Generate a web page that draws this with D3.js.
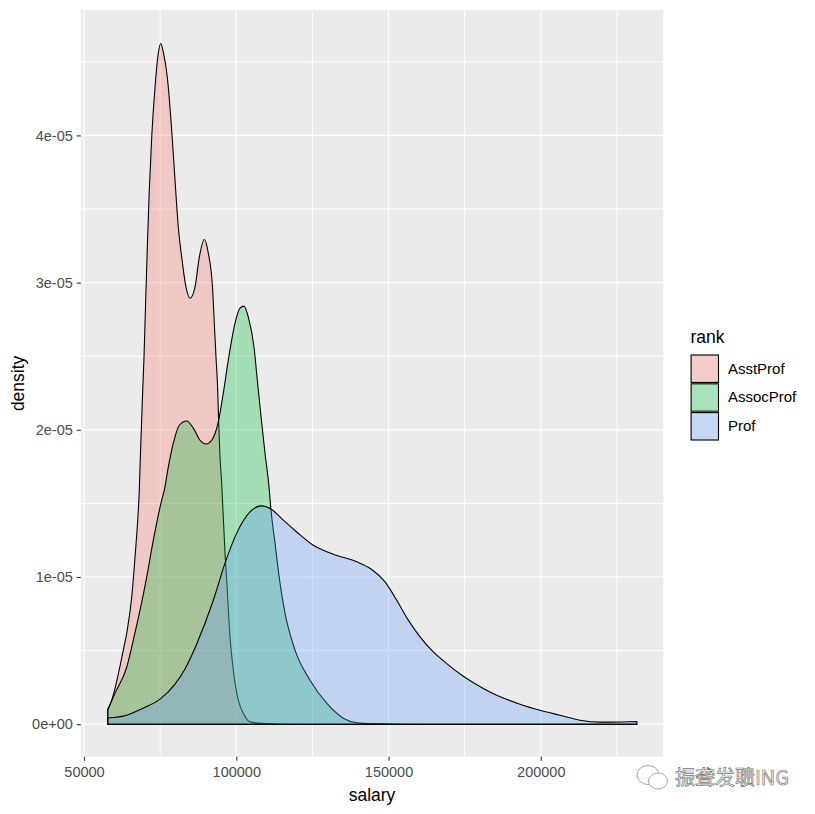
<!DOCTYPE html>
<html>
<head>
<meta charset="utf-8">
<script src="https://cdn.jsdelivr.net/npm/d3@7"></script>
<style>
  html, body { margin: 0; padding: 0; background: #fff; }
  text { font-family: "Liberation Sans", Arial, sans-serif; }
</style>
</head>
<body>
<div id="chart"></div>
<script>
// values, density in units of 1e-5
const ranks = ["AsstProf", "AssocProf", "Prof"];
const rankColors = ["#F8766D", "#00BA38", "#619CFF"];

const asstSalary = [57800, 59097, 62906, 64023, 65665, 66748, 67832, 68161, 68390, 69277, 69704, 70131, 70788, 71445, 72233, 73316, 74400, 75188, 76042, 77356, 78801, 79884, 80968, 82085, 83497, 84810, 86452, 87865, 89507, 90820, 92264, 92791, 93349, 93907, 94235, 94662, 95155, 96304, 96863, 97946, 99030, 100672, 102314, 104514, 108357, 120000, 231545];
const asstDensity = [0.102, 0.163, 0.503, 0.618, 0.863, 1.134, 1.454, 1.590, 1.746, 2.269, 2.493, 2.792, 3.241, 3.628, 3.988, 4.327, 4.558, 4.624, 4.565, 4.395, 4.035, 3.696, 3.376, 3.173, 2.969, 2.894, 2.969, 3.173, 3.293, 3.200, 2.948, 2.724, 2.493, 2.269, 2.045, 1.814, 1.658, 1.162, 0.978, 0.591, 0.367, 0.163, 0.075, 0.016, 0.006, 0, 0];

const assocSalary = [57800, 60180, 64023, 66190, 70591, 72758, 75517, 76371, 77684, 79326, 81297, 83727, 85894, 88094, 90065, 91937, 94104, 95746, 97388, 99588, 101230, 102544, 103956, 105828, 106912, 108357, 109440, 110853, 111312, 112724, 114366, 116008, 119292, 124218, 129703, 135154, 139555, 144908, 160000, 231545];
const assocDensity = [0.095, 0.211, 0.387, 0.571, 0.999, 1.250, 1.522, 1.590, 1.746, 1.909, 2.031, 2.060, 2.011, 1.929, 1.904, 1.929, 2.054, 2.249, 2.473, 2.724, 2.826, 2.840, 2.765, 2.561, 2.337, 2.045, 1.841, 1.590, 1.474, 1.230, 0.958, 0.754, 0.503, 0.299, 0.143, 0.041, 0.010, 0.004, 0, 0];

const profSalary = [57800, 64023, 69474, 74958, 79884, 83168, 87011, 92462, 96304, 100147, 104514, 108127, 111641, 115450, 119851, 125302, 131870, 139555, 144481, 148848, 152691, 156500, 160342, 164710, 169111, 174562, 181130, 185531, 193182, 199750, 206318, 212886, 219454, 223296, 231545];
const profDensity = [0.042, 0.061, 0.109, 0.170, 0.272, 0.375, 0.545, 0.842, 1.094, 1.298, 1.442, 1.483, 1.459, 1.386, 1.306, 1.216, 1.155, 1.103, 1.051, 0.967, 0.842, 0.707, 0.593, 0.491, 0.412, 0.326, 0.243, 0.197, 0.136, 0.095, 0.061, 0.027, 0.014, 0.014, 0.018];

const xTicks = [50000, 100000, 150000, 200000];
const xMinor = [75000, 125000, 175000, 225000];
const yTicks = [0, 1, 2, 3, 4];
const yMinor = [0.5, 1.5, 2.5, 3.5, 4.5];
const yTickLabels = ["0e+00", "1e-05", "2e-05", "3e-05", "4e-05"];

const width = 815, height = 814;
const panel = { left: 80.8, right: 663.2, top: 10, bottom: 756.8 };

const svg = d3.select("#chart").append("svg")
    .attr("width", width)
    .attr("height", height)
    .style("display", "block");

// data domain chosen so the panel carries ggplot's 5% expansion
const x = d3.scaleLinear().domain([50000, 200000]).range([84, 540.8]);
const y = d3.scaleLinear().domain([0, 4]).range([724.2, 135.4]);

svg.append("rect")
    .attr("x", panel.left).attr("y", panel.top)
    .attr("width", panel.right - panel.left)
    .attr("height", panel.bottom - panel.top)
    .attr("fill", "#ebebeb");

// grid
const grid = svg.append("g").attr("stroke", "#fff").attr("fill", "none");
function vLines(vals, w) {
    grid.selectAll(null).data(vals).join("line")
        .attr("x1", d => x(d)).attr("x2", d => x(d))
        .attr("y1", panel.top).attr("y2", panel.bottom)
        .attr("stroke-width", w);
}
function hLines(vals, w) {
    grid.selectAll(null).data(vals).join("line")
        .attr("x1", panel.left).attr("x2", panel.right)
        .attr("y1", d => y(d)).attr("y2", d => y(d))
        .attr("stroke-width", w);
}
vLines(xMinor, 1);
hLines(yMinor, 1);
vLines(xTicks, 1.2);
hLines(yTicks, 1.2);

// density curves
const series = [
    { xs: asstSalary, ys: asstDensity },
    { xs: assocSalary, ys: assocDensity },
    { xs: profSalary, ys: profDensity }
];
const area = d3.area()
    .x(d => x(d[0]))
    .y0(y(0))
    .y1(d => y(d[1]))
    .curve(d3.curveMonotoneX);

series.forEach((s, i) => {
    svg.append("path")
        .datum(d3.zip(s.xs, s.ys))
        .attr("d", area)
        .attr("fill", rankColors[i])
        .attr("fill-opacity", 0.3)
        .attr("stroke", "#000")
        .attr("stroke-width", 1.1)
        .attr("stroke-linejoin", "round");
});

// axes
const xAxis = svg.append("g")
    .attr("transform", `translate(0,${panel.bottom})`)
    .call(d3.axisBottom(x).tickValues(xTicks).tickFormat(d3.format("d")).tickSize(4).tickPadding(6));
const yAxis = svg.append("g")
    .attr("transform", `translate(${panel.left},0)`)
    .call(d3.axisLeft(y).tickValues(yTicks).tickFormat((d, i) => yTickLabels[i]).tickSize(4).tickPadding(4));

[xAxis, yAxis].forEach(a => {
    a.select(".domain").remove();
    a.selectAll(".tick line").attr("stroke", "#333").attr("stroke-width", 1.1);
    a.selectAll(".tick text")
        .attr("fill", "#4d4d4d")
        .style("font-family", '"Liberation Sans", Arial, sans-serif')
        .style("font-size", "14.5px");
});

svg.append("text")
    .attr("x", (panel.left + panel.right) / 2).attr("y", 801)
    .attr("text-anchor", "middle")
    .style("font-size", "17.5px")
    .text("salary");

svg.append("text")
    .attr("transform", `translate(24,${(panel.top + panel.bottom) / 2}) rotate(-90)`)
    .attr("text-anchor", "middle")
    .style("font-size", "17.5px")
    .text("density");

// legend
const keySize = 28.8, keyTop = 354.3, keyLeft = 690.4;
svg.append("text")
    .attr("x", keyLeft).attr("y", 343)
    .style("font-size", "17.5px")
    .text("rank");

const keys = svg.selectAll(".key").data(ranks).join("g")
    .attr("class", "key")
    .attr("transform", (d, i) => `translate(${keyLeft},${keyTop + i * keySize})`);
keys.append("rect")
    .attr("width", keySize).attr("height", keySize)
    .attr("fill", "#f2f2f2");
keys.append("rect")
    .attr("x", 0.7).attr("y", 0.7)
    .attr("width", keySize - 1.4).attr("height", keySize - 1.4)
    .attr("fill", (d, i) => rankColors[i])
    .attr("fill-opacity", 0.3)
    .attr("stroke", "#000")
    .attr("stroke-width", 1.1);
keys.append("text")
    .attr("x", 37.5).attr("y", keySize / 2 + 5)
    .style("font-size", "15px")
    .text(d => d);

// watermark
const mark = svg.append("g")
    .attr("fill", "#fff")
    .attr("stroke", "#a8a8a8")
    .attr("stroke-width", 1);
mark.append("ellipse").attr("cx", 648).attr("cy", 775).attr("rx", 11).attr("ry", 9.5);
mark.append("ellipse").attr("cx", 658).attr("cy", 781).attr("rx", 9.5).attr("ry", 8);
mark.append("text")
    .attr("x", 675).attr("y", 785)
    .attr("fill", "#fff")
    .attr("stroke", "#777")
    .attr("stroke-width", 0.7)
    .style("font-family", '"Noto Sans CJK SC", sans-serif')
    .style("font-size", "20px")
    .text("振聋发聩ING");
</script>
</body>
</html>
